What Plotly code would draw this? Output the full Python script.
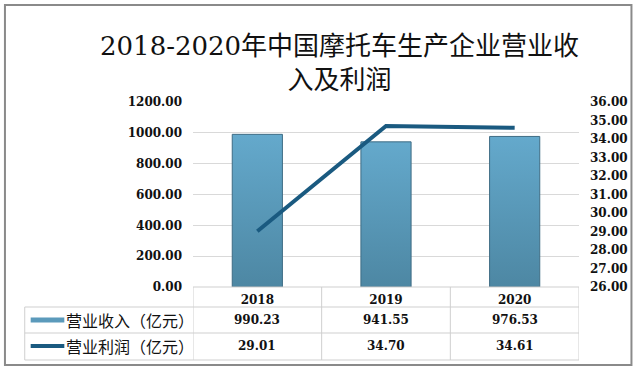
import plotly.graph_objects as go

# ---- data ----
years = ["2018", "2019", "2020"]
revenue = [990.23, 941.55, 976.53]
profit = [29.01, 34.70, 34.61]
series_names = ["营业收入（亿元）", "营业利润（亿元）"]
title_text = "2018-2020年中国摩托车生产企业营业收<br>入及利润"

# ---- layout geometry (pixels) ----
W, H = 640, 371
L, R, T, B = 193, 57, 102, 84
PW, PH = W - L - R, H - T - B

def px(x):
    return (x - L) / PW

def py(y):
    return (H - B - y) / PH

NUM_FONT = "DejaVu Serif, Noto Sans CJK SC"
CJK_FONT = "Noto Sans CJK SC, DejaVu Serif"
BAR_TOP = "#64a9cc"
BAR_BOTTOM = "#4d87a3"
BAR_COLOR = "#5b9abb"
BAR_EDGE = "#3e6c84"
LINE_COLOR = "#1a5a80"
GRID = "#d9d9d9"
TXT = "#111111"
BAR_W = 0.39

idx = list(range(len(years)))

fig = go.Figure()
# bars drawn as filled polygons (data-driven) to allow a vertical gradient
for i, v in zip(idx, revenue):
    fig.add_trace(go.Scatter(
        x=[i - BAR_W / 2, i - BAR_W / 2, i + BAR_W / 2, i + BAR_W / 2, i - BAR_W / 2],
        y=[0, v, v, 0, 0],
        mode="lines", fill="toself", name=series_names[0],
        line=dict(color=BAR_EDGE, width=1),
        fillgradient=dict(type="vertical", start=0, stop=v,
                          colorscale=[[0, BAR_BOTTOM], [1, BAR_TOP]]),
        yaxis="y", showlegend=False, hoverinfo="skip",
    ))
fig.add_trace(go.Scatter(
    x=idx, y=profit, name=series_names[1], mode="lines",
    line=dict(color=LINE_COLOR, width=4), yaxis="y2", showlegend=False,
))

shapes = []
line_style = dict(color="#cfcfcf", width=1)
shapes.append(dict(type="line", xref="paper", yref="paper", x0=0, x1=1, y0=py(287), y1=py(287), line=line_style))
for yy in (307, 333, 360):
    shapes.append(dict(type="line", xref="paper", yref="paper", x0=px(23), x1=1, y0=py(yy), y1=py(yy), line=line_style))
for i in range(len(years) + 1):
    shapes.append(dict(type="line", xref="x", yref="paper", x0=i - 0.5, x1=i - 0.5,
                       y0=py(287), y1=py(360), line=line_style))
shapes.append(dict(type="line", xref="paper", yref="paper", x0=px(23), x1=px(23),
                   y0=py(307), y1=py(360), line=line_style))
# legend keys
shapes.append(dict(type="line", xref="paper", yref="paper", x0=px(29), x1=px(63),
                   y0=py(320), y1=py(320), line=dict(color=BAR_COLOR, width=5)))
shapes.append(dict(type="line", xref="paper", yref="paper", x0=px(29), x1=px(63),
                   y0=py(346), y1=py(346), line=dict(color=LINE_COLOR, width=4)))
# outer border
shapes.append(dict(type="rect", xref="paper", yref="paper", x0=px(3), x1=px(636),
                   y0=py(5), y1=py(365), line=dict(color="#8a8a8a", width=2)))

annotations = [dict(
    text=title_text, xref="paper", yref="paper", x=px(341), y=py(63),
    xanchor="center", yanchor="middle", showarrow=False,
    font=dict(family="DejaVu Serif, Noto Sans CJK SC", size=26, color=TXT),
)]
row_y = [py(320), py(346)]
for name, yy in zip(series_names, row_y):
    annotations.append(dict(text=name, xref="paper", yref="paper", x=px(63), y=yy,
                            xanchor="left", yanchor="middle", showarrow=False,
                            font=dict(family=CJK_FONT, size=16, color=TXT)))
for vals, yy in zip([revenue, profit], row_y):
    for i, v in zip(idx, vals):
        annotations.append(dict(text=f"{v:.2f}", xref="x", yref="paper", x=i, y=yy,
                                xanchor="center", yanchor="middle", showarrow=False,
                                font=dict(family=NUM_FONT, size=12, color=TXT, weight="bold")))

fig.update_layout(
    width=W, height=H,
    margin=dict(l=L, r=R, t=T, b=B),
    paper_bgcolor="white", plot_bgcolor="white",
    xaxis=dict(range=[-0.5, 2.5], tickvals=idx, ticktext=years, showgrid=False,
               showline=False, zeroline=False, ticks="", ticklabelstandoff=4,
               tickfont=dict(family=NUM_FONT, size=12, color=TXT, weight="bold")),
    yaxis=dict(range=[0, 1200], dtick=200, tickformat=".2f", showgrid=True,
               gridcolor=GRID, zeroline=False, showline=False, ticks="",
               ticklabelstandoff=10,
               tickfont=dict(family=NUM_FONT, size=12, color=TXT, weight="bold")),
    yaxis2=dict(range=[26, 36], dtick=1, tickformat=".2f", overlaying="y", side="right",
                showgrid=False, zeroline=False, showline=False, ticks="",
                ticklabelstandoff=10,
                tickfont=dict(family=NUM_FONT, size=12, color=TXT, weight="bold")),
    shapes=shapes,
    annotations=annotations,
    showlegend=False,
)

fig.write_html("out.html", config={"displayModeBar": False},
               post_script="document.body.style.margin='0';")
